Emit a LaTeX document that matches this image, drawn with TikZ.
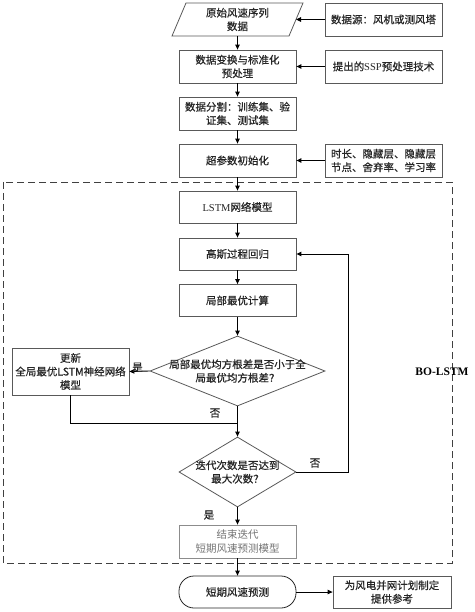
\documentclass[tikz,border=0pt]{standalone}
\usepackage{fontspec}
\setmainfont{Noto Sans CJK SC}[FakeBold=0.6]
\newfontfamily\lightcjk{Noto Sans CJK SC}
\newfontfamily\tnr{Liberation Serif}
\usetikzlibrary{arrows.meta,shapes.geometric}
\tikzset{
  box/.style={draw=black!65, line width=0.8pt, minimum width=117pt, minimum height=33pt,
    align=center, inner sep=1pt, font=\fontsize{10.5}{13.5}\selectfont, text=black!85},
  txt/.style={align=center, inner sep=0pt, font=\fontsize{10.5}{13.5}\selectfont, text=black!85},
  dia/.style={draw=black!65, line width=0.8pt, diamond, inner sep=0pt},
  arr/.style={-{Triangle[length=5pt,width=4.5pt]}, line width=0.9pt, black},
  ln/.style={line width=0.9pt, black},
  lbl/.style={font=\fontsize{10.5}{12}\selectfont, text=black!85, inner sep=0pt}
}
\begin{document}
\begin{tikzpicture}[x=1pt,y=-1pt]
\useasboundingbox (0,0) rectangle (474,612);
% dashed frame
\draw[black!75, line width=0.9pt, dash pattern=on 7pt off 4pt] (3,182) rectangle (452,563);
\node[font=\tnr\bfseries\fontsize{11.5}{13}\selectfont, inner sep=0pt] (bo) at (442,372) {BO-LSTM};

% source parallelogram
\node[txt, minimum width=117pt, minimum height=33pt] (src) at (237.5,19.5) {原始风速序列\\数据};
\draw[black!65, line width=0.8pt] (186,3) -- (303,3) -- (289,36) -- (172,36) -- cycle;
\coordinate (srcE) at (296,19.5);
\node[box] (srcR) at (383.5,19.5) {数据源：风机或测风塔};

\node[box] (prep) at (237.5,66.5) {数据变换与标准化\\预处理};
\node[box] (prepR) at (383.5,66.5) {提出的{\tnr SSP}预处理技术};
\node[box] (split) at (237.5,113.5) {数据分割：训练集、验\\证集、测试集};
\node[box] (hyper) at (237.5,160.5) {超参数初始化};
\node[box] (hyperR) at (383.5,160.5) {时长、隐藏层、隐藏层\\节点、舍弃率、学习率};

\node[box, minimum height=32pt] (lstm) at (237.5,207) {{\tnr LSTM}网络模型};
\node[box, minimum height=32pt] (gpr) at (237.5,254) {高斯过程回归};
\node[box, minimum height=32pt] (local) at (237.5,300.5) {局部最优计算};

\node[dia, minimum width=175pt, minimum height=70pt] (d1) at (237.5,371) {};
\node[txt] at (d1) {局部最优均方根差是否小于全\\局最优均方根差？};

\node[box, minimum height=47pt] (upd) at (70.5,371.5) {更新\\全局最优LSTM神经网络\\模型};

\node[dia, minimum width=117pt, minimum height=70pt] (d2) at (237.5,472) {};
\node[txt] at (d2) {迭代次数是否达到\\最大次数？};

\node[box, draw=black!45, text=black!55, font=\lightcjk\fontsize{10.5}{13.5}\selectfont] (end) at (237.5,541.5) {结束迭代\\短期风速预测模型};

\node[box, rounded corners=15pt, minimum height=32pt, draw=black!85] (pred) at (237.5,592) {短期风速预测};
\node[box, minimum width=118pt, minimum height=32pt] (predR) at (392,592) {为风电并网计划制定\\提供参考};

% connectors
\draw[arr] (srcR.west) -- (srcE);
\draw[arr] (prepR.west) -- (prep.east);
\draw[arr] (hyperR.west) -- (hyper.east);
\draw[arr] (237.5,36) -- (prep.north);
\draw[arr] (prep.south) -- (split.north);
\draw[arr] (split.south) -- (hyper.north);
\draw[arr] (hyper.south) -- (lstm.north);
\draw[arr] (lstm.south) -- (gpr.north);
\draw[arr] (gpr.south) -- (local.north);
\draw[arr] (local.south) -- (d1.north);
\draw[arr] (d1.west) -- node[lbl, above, yshift=-1pt, pos=0.6] {是} (upd.east);
\coordinate (j) at (237.5,423);
\draw[ln] (upd.south) |- (j);
\draw[arr] (d1.south) -- (d2.north);
\node[lbl] at (215,413) {否};
\coordinate (loopR) at (348,472);
\draw[arr] (d2.east) -- (loopR) |- (gpr.east);
\node[lbl] at (315,463) {否};
\draw[arr] (d2.south) -- (end.north);
\node[lbl] at (209,515) {是};
\draw[arr] (end.south) -- (pred.north);
\draw[arr] (pred.east) -- (predR.west);
\end{tikzpicture}
\end{document}
